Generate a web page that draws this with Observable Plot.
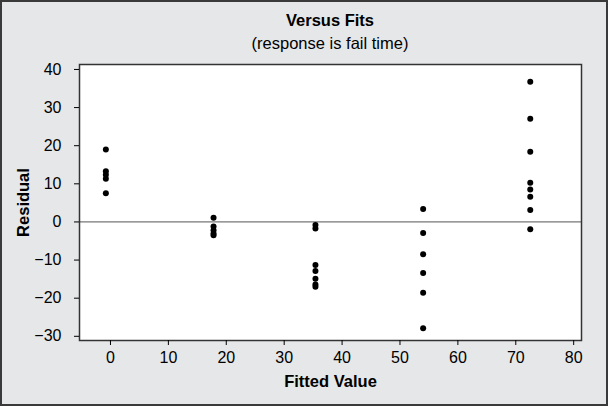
<!DOCTYPE html>
<html>
<head>
<meta charset="utf-8">
<script src="https://cdn.jsdelivr.net/npm/d3@7"></script>
<script src="https://cdn.jsdelivr.net/npm/@observablehq/plot@0.6"></script>
<style>
  html, body { margin: 0; padding: 0; }
  #wrap {
    width: 608px; height: 406px; box-sizing: border-box;
    border: 2px solid #3a3a3a; background: #e6e7e8;
    font-family: "Liberation Sans", Arial, sans-serif; color: #000;
    overflow: hidden;
  }
  #title { height: 54px; position: relative; }
  #title .t1 { position: absolute; left: 0; width: 656px; top: 9px; text-align: center; font-weight: bold; font-size: 16.5px; }
  #title .t2 { position: absolute; left: 0; width: 656px; top: 32px; text-align: center; font-size: 16.5px; }
  svg { display: block; }
</style>
</head>
<body>
<div id="wrap">
  <div id="title"><div class="t1">Versus Fits</div><div class="t2">(response is fail time)</div></div>
  <div id="chart"></div>
</div>
<script>
// Fitted values of the five groups
const fits = [-0.8, 17.8, 35.4, 54.0, 72.5];
// Residuals in each group
const res0 = [19.0, 13.3, 12.4, 11.3, 7.5];
const res1 = [1.1, -1.2, -2.2, -3.0, -3.5];
const res2 = [-0.8, -1.7, -11.3, -12.9, -14.9, -16.4, -17.0];
const res3 = [3.4, -2.9, -8.5, -13.4, -18.6, -27.9];
const res4 = [36.8, 27.1, 18.4, 10.3, 8.5, 6.6, 3.1, -1.9];
const xTicks = [0, 10, 20, 30, 40, 50, 60, 70, 80];
const yTicks = [-30, -20, -10, 0, 10, 20, 30, 40];

const groups = [res0, res1, res2, res3, res4];
const data = groups.flatMap((g, i) => g.map(r => ({fit: fits[i], resid: r})));

const chart = Plot.plot({
  width: 604,
  height: 348,
  marginLeft: 77,
  marginRight: 25,
  marginTop: 8,
  marginBottom: 64,
  style: {background: "transparent", fontFamily: "Liberation Sans, Arial, sans-serif", fontSize: "16px", color: "#000"},
  x: {domain: [-5.35, 81.35]},
  y: {domain: [-31.1, 41.3]},
  marks: [
    Plot.frame({fill: "white", stroke: "none"}),
    Plot.ruleY([0], {stroke: "#777", strokeWidth: 1.2}),
    Plot.dot(data, {x: "fit", y: "resid", r: 3, fill: "black", stroke: "none"}),
    Plot.frame({stroke: "#333", strokeWidth: 1.5}),
    Plot.axisX(xTicks, {tickSize: 5, tickPadding: 6, label: "Fitted Value", labelArrow: "none", labelAnchor: "center", labelOffset: 46, fontSize: 16}),
    Plot.axisY(yTicks, {tickSize: 5, tickPadding: 13, label: "Residual", labelArrow: "none", labelAnchor: "center", labelOffset: 62, fontSize: 16, tickFormat: d3.format("d")})
  ]
});
// Bold axis labels, and drop any arrow glyph
chart.querySelectorAll("g[aria-label='x-axis label'] text, g[aria-label='y-axis label'] text").forEach(t => {
  t.setAttribute("font-weight", "bold");
  t.setAttribute("font-size", "16.5");
  t.textContent = t.textContent.replace(/\s*[→↑←↓]\s*/g, "").trim();
});
document.getElementById("chart").appendChild(chart);
</script>
</body>
</html>
